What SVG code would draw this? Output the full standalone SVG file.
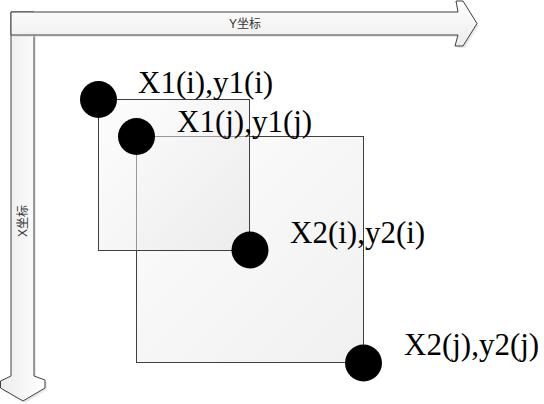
<svg xmlns="http://www.w3.org/2000/svg" width="544" height="404" viewBox="0 0 544 404">
<style>
.ar{stroke:#404040;stroke-width:1;stroke-linejoin:miter}
.sh{fill:#d8d8d8;stroke:none;opacity:0.6}
.bx{stroke:#404040;stroke-width:1}
.dot{fill:#000}
.lbl{font-family:"Liberation Serif","Times New Roman",serif;font-size:31px;fill:#000}
.ax{font-family:"Liberation Sans","Noto Sans CJK SC",sans-serif;font-size:12px;fill:#333}
</style>
<defs>
<linearGradient id="gv" x1="0" y1="0" x2="1" y2="0">
<stop offset="0" stop-color="#ececec"/><stop offset="1" stop-color="#ffffff"/>
</linearGradient>
<linearGradient id="gh" x1="0" y1="0" x2="0" y2="1">
<stop offset="0" stop-color="#ffffff"/><stop offset="1" stop-color="#ececec"/>
</linearGradient>
<linearGradient id="gb" x1="0" y1="0" x2="1" y2="1">
<stop offset="0" stop-color="#fafafa" stop-opacity="0.5"/><stop offset="1" stop-color="#e2e2e2" stop-opacity="0.5"/>
</linearGradient>
</defs>
<g id="x-axis">
<path class="sh" d="M13,14 L36,14 L36,378 L47,382 L47,390 L25,403 L2,390 L2,383 L13,378 Z"/>
<path class="ar" fill="url(#gv)" d="M11,12 L34,12 L34,376 L45,380 L45,388 L23,401 L0.5,388 L0.5,381 L11,376 Z"/>
<text class="ax" transform="translate(27,221) rotate(-90)" text-anchor="middle">X坐标</text>
</g>
<g id="y-axis">
<path class="sh" d="M13,37 L460,37 L457,48 L465,48 L479,25.5 L465,3 L460,14 L13,14 Z"/>
<path class="ar" fill="url(#gh)" d="M11,12 L458,12 L456,1 L463,1 L477,23.5 L463,46 L455,46 L458,35 L11,35 Z"/>
<text class="ax" x="245" y="28" text-anchor="middle">Y坐标</text>
</g>
<g id="box-j">
<rect class="bx" fill="url(#gb)" x="136.5" y="136.5" width="227" height="226"/>
</g>
<g id="box-i">
<rect class="bx" fill="url(#gb)" x="98.5" y="99.5" width="151" height="151"/>
</g>
<g id="p1i"><circle class="dot" cx="98.5" cy="99.5" r="18.5"/><text class="lbl" x="138" y="93">X1(i),y1(i)</text></g>
<g id="p1j"><circle class="dot" cx="136.5" cy="136.5" r="18.5"/><text class="lbl" x="177" y="132">X1(j),y1(j)</text></g>
<g id="p2i"><circle class="dot" cx="250" cy="250" r="18.5"/><text class="lbl" x="290" y="243">X2(i),y2(i)</text></g>
<g id="p2j"><circle class="dot" cx="363.5" cy="363" r="18.5"/><text class="lbl" x="404" y="355">X2(j),y2(j)</text></g>
<g id="connectors"/>
</svg>
